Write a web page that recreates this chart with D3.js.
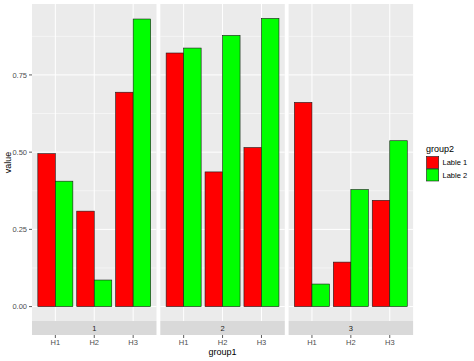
<!DOCTYPE html>
<html>
<head>
<meta charset="utf-8">
<script src="https://cdn.jsdelivr.net/npm/d3@7"></script>
<style>
  body { margin: 0; background: #fff; }
  svg { display: block; font-family: 'Liberation Sans', Arial, sans-serif; }
</style>
</head>
<body>
<svg id="chart" width="474" height="361"></svg>
<script>
// facet panels, x categories, fill groups
const panels = ['1', '2', '3'];
const group1 = ['H1', 'H2', 'H3'];
const group2 = ['Lable 1', 'Lable 2'];
const colors = ['#FF0000', '#00FF00'];

// values per panel: [H1, H2, H3] for each group2 level
const lable1 = [
	[0.495, 0.309, 0.694],
	[0.821, 0.436, 0.515],
	[0.661, 0.144, 0.344]
];
const lable2 = [
	[0.406, 0.086, 0.931],
	[0.837, 0.878, 0.933],
	[0.073, 0.379, 0.537]
];

const yTicks = [0, 0.25, 0.5, 0.75];
const yMinor = [0.125, 0.375, 0.625, 0.875];

const svg = d3.select('#chart');

const panelTop = 4;
const panelBottom = 321;
const panelW = 124.5;
const panelGap = 3.8;
const panelLeft = 32;
const stripH = 14;

const maxV = d3.max([...lable1.flat(), ...lable2.flat()]);
const y = d3.scaleLinear()
	.domain([-0.05 * maxV, maxV * 1.05])
	.range([panelBottom, panelTop]);

// ggplot discrete scale: 0.6 units of padding each side, bars 0.9 wide
const x = d3.scalePoint()
	.domain(group1)
	.range([panelW * 0.6 / 3.2, panelW * 2.6 / 3.2]);
const barW = panelW / 3.2 * 0.9;

// y axis labels + ticks
const yAxis = svg.append('g');
yTicks.forEach(t => {
	yAxis.append('line')
		.attr('x1', panelLeft - 3).attr('x2', panelLeft)
		.attr('y1', y(t)).attr('y2', y(t))
		.attr('stroke', '#333333').attr('stroke-width', 0.8);
	yAxis.append('text')
		.attr('x', panelLeft - 5)
		.attr('y', y(t))
		.attr('dy', '0.35em')
		.attr('text-anchor', 'end')
		.attr('fill', '#4D4D4D')
		.attr('font-size', '7.5px')
		.text(d3.format('.2f')(t));
});

svg.append('text')
	.attr('transform', `translate(11,${(panelTop + panelBottom) / 2}) rotate(-90)`)
	.attr('text-anchor', 'middle')
	.attr('fill', '#000')
	.attr('font-size', '9px')
	.text('value');

panels.forEach((p, pi) => {
	const x0 = panelLeft + pi * (panelW + panelGap);
	const g = svg.append('g').attr('transform', `translate(${x0},0)`);

	g.append('rect')
		.attr('x', 0).attr('y', panelTop)
		.attr('width', panelW).attr('height', panelBottom - panelTop)
		.attr('fill', '#EBEBEB');

	yMinor.forEach(t => {
		g.append('line')
			.attr('x1', 0).attr('x2', panelW)
			.attr('y1', y(t)).attr('y2', y(t))
			.attr('stroke', '#fff').attr('stroke-width', 0.5);
	});
	yTicks.forEach(t => {
		g.append('line')
			.attr('x1', 0).attr('x2', panelW)
			.attr('y1', y(t)).attr('y2', y(t))
			.attr('stroke', '#fff').attr('stroke-width', 1);
	});
	group1.forEach(c => {
		g.append('line')
			.attr('x1', x(c)).attr('x2', x(c))
			.attr('y1', panelTop).attr('y2', panelBottom)
			.attr('stroke', '#fff').attr('stroke-width', 1);
	});

	const series = [lable1[pi], lable2[pi]];
	series.forEach((vals, si) => {
		g.selectAll(null)
			.data(vals)
			.enter().append('rect')
			.attr('x', (d, i) => x(group1[i]) - barW / 2 + si * barW / 2)
			.attr('y', d => y(d))
			.attr('width', barW / 2)
			.attr('height', d => y(0) - y(d))
			.attr('fill', colors[si])
			.attr('stroke', '#1a1a1a')
			.attr('stroke-width', 0.6);
	});

	// strip at bottom
	g.append('rect')
		.attr('x', 0).attr('y', panelBottom)
		.attr('width', panelW).attr('height', stripH)
		.attr('fill', '#D9D9D9');
	g.append('text')
		.attr('x', panelW / 2)
		.attr('y', panelBottom + stripH / 2)
		.attr('dy', '0.35em')
		.attr('text-anchor', 'middle')
		.attr('fill', '#1A1A1A')
		.attr('font-size', '7.5px')
		.text(p);

	// x ticks
	group1.forEach(c => {
		g.append('line')
			.attr('x1', x(c)).attr('x2', x(c))
			.attr('y1', panelBottom + stripH).attr('y2', panelBottom + stripH + 3)
			.attr('stroke', '#333333').attr('stroke-width', 0.8);
		g.append('text')
			.attr('x', x(c))
			.attr('y', panelBottom + stripH + 10)
			.attr('text-anchor', 'middle')
			.attr('fill', '#4D4D4D')
			.attr('font-size', '7.5px')
			.text(c);
	});
});

const totalRight = panelLeft + 3 * panelW + 2 * panelGap;
svg.append('text')
	.attr('x', (panelLeft + totalRight) / 2)
	.attr('y', 355)
	.attr('text-anchor', 'middle')
	.attr('fill', '#000')
	.attr('font-size', '9px')
	.text('group1');

// legend
const legend = svg.append('g').attr('transform', 'translate(426,0)');
legend.append('text')
	.attr('x', 0).attr('y', 152)
	.attr('fill', '#000')
	.attr('font-size', '9px')
	.text('group2');
group2.forEach((l, i) => {
	const ky = 156.5 + i * 12.5;
	legend.append('rect')
		.attr('x', 0.5).attr('y', ky)
		.attr('width', 12.2).attr('height', 12)
		.attr('fill', colors[i])
		.attr('stroke', '#1a1a1a')
		.attr('stroke-width', 0.6);
	legend.append('text')
		.attr('x', 16.5).attr('y', ky + 6)
		.attr('dy', '0.35em')
		.attr('fill', '#000')
		.attr('font-size', '7.5px')
		.text(l);
});
</script>
</body>
</html>
